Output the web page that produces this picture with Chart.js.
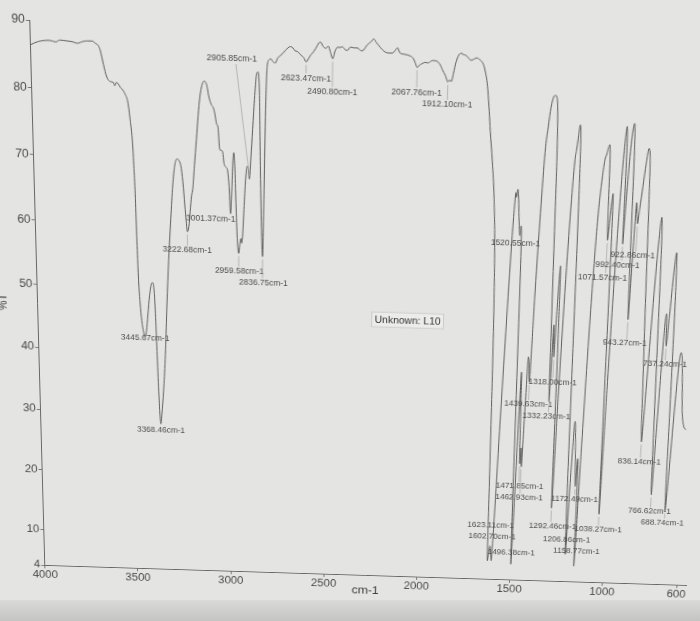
<!DOCTYPE html>
<html>
<head>
    <title>IR Spectrum - Unknown L10</title>
    <script src="https://cdn.jsdelivr.net/npm/chart.js"></script>
    <style>
        body {
            margin: 0;
            padding: 0;
            width: 700px;
            height: 621px;
            overflow: hidden;
            position: relative;
            background: #e4e4e2;
            font-family: "Liberation Sans", Arial, sans-serif;
        }
        .desk {
            position: absolute;
            left: 0;
            right: 0;
            top: 600px;
            bottom: 0;
            background: linear-gradient(#dadad8, #c4c4c2);
        }
        #spectrum {
            position: absolute;
            left: 0;
            top: 0;
            transform-origin: 0 0;
        }
    </style>
</head>
<body>
    <div class="desk"></div>
    <canvas id="spectrum" width="750" height="640"></canvas>

    <script>
        // spectrum (cm-1 / %T)
        const wavenumbers = [
            4000, 3960, 3903, 3875, 3853, 3820, 3790, 3768, 3738, 3715, 3690, 3678, 3663, 3653, 3638, 3623,
            3605, 3590, 3583, 3575, 3568, 3555, 3543, 3530, 3519, 3507, 3498, 3492, 3487, 3482, 3477, 3470,
            3462, 3454, 3445.67, 3438, 3430, 3420, 3410, 3403, 3396, 3390, 3384, 3377, 3368.46, 3360, 3350,
            3340, 3331, 3320, 3307, 3296, 3285, 3274, 3264, 3254, 3244, 3235, 3228, 3222.68, 3215, 3208, 3200,
            3194, 3185, 3174, 3165, 3156, 3145, 3135, 3128, 3120, 3112, 3105, 3098, 3090, 3082, 3072, 3065,
            3056, 3048, 3041, 3035, 3031, 3022, 3016, 3009, 3001.37, 2995, 2990, 2985, 2980, 2974, 2967,
            2959.58, 2953, 2948, 2944, 2940, 2933, 2925, 2917, 2912, 2905.85, 2898, 2890, 2880, 2870, 2863,
            2856, 2850, 2842, 2836.75, 2831, 2825, 2818, 2810, 2800, 2790, 2778, 2765, 2753, 2740, 2728, 2715,
            2703, 2690, 2680, 2668, 2650, 2635, 2623.47, 2610, 2600, 2593, 2575, 2560, 2553, 2540, 2528, 2513,
            2503, 2490.80, 2480, 2468, 2455, 2443, 2430, 2418, 2403, 2385, 2368, 2350, 2338, 2320, 2300, 2288,
            2275, 2263, 2245, 2228, 2210, 2193, 2180, 2168, 2160, 2153, 2135, 2118, 2100, 2088, 2077, 2067.76,
            2055, 2043, 2028, 2015, 2000, 1988, 1970, 1955, 1940, 1925, 1912.10, 1905, 1895, 1885, 1875, 1862,
            1850, 1838, 1825, 1812, 1800, 1785, 1770, 1760, 1750, 1735, 1725, 1715, 1700, 1691, 1675, 1659,
            1645, 1635, 1628, 1623.11, 1617, 1612, 1607, 1602.70, 1595, 1585, 1574, 1562, 1555, 1549, 1545,
            1540, 1535, 1530, 1524, 1520.55, 1516, 1512, 1505, 1500, 1496.38, 1492, 1487, 1482, 1477, 1471.85,
            1467, 1462.93, 1456, 1450, 1445, 1439.63, 1430, 1420, 1410, 1400, 1390, 1380, 1370, 1362, 1355,
            1349, 1343, 1337, 1332.23, 1328, 1325, 1321, 1318.00, 1312, 1305, 1299, 1292.46, 1285, 1275, 1265,
            1257, 1252, 1246, 1239, 1233, 1227, 1220, 1213, 1206.86, 1200, 1190, 1180, 1172.49, 1167, 1163,
            1158.77, 1150, 1140, 1128, 1115, 1105, 1098, 1090, 1085, 1080, 1076, 1071.57, 1063, 1055, 1049,
            1044, 1038.27, 1032, 1024, 1015, 1008, 1002, 998, 995, 992.40, 988, 980, 972, 965, 959, 953, 948,
            943.27, 938, 933, 928, 922.86, 916, 906, 896, 886, 878, 870, 858, 847, 836.14, 828, 818, 808, 800,
            793, 784, 775, 766.62, 760, 752, 745, 737.24, 730, 721, 713, 706, 698, 688.74, 681, 673, 663, 656,
            649, 642, 632, 618, 605
        ];
        const transmittance = [
            86.4, 86.9, 87.1, 86.9, 87.2, 87.1, 87.0, 86.8, 87.1, 87.2, 87.2, 86.9, 86.6, 85.9, 83.8, 82.0,
            81.3, 81.2, 80.7, 81.2, 81.1, 80.5, 80.1, 79.4, 78.4, 75.4, 72.4, 68.3, 63.8, 57.3, 51.8, 47.7,
            44.7, 43.0, 42.2, 43.2, 45.7, 48.8, 50.6, 50.8, 49.3, 45.3, 39.2, 32.7, 28.2, 30.7, 34.7,
            40.2, 47.3, 54.3, 60.9, 65.9, 69.0, 70.0, 69.8, 69.0, 66.5, 63.0, 60.4, 58.9, 59.7, 62.0, 64.5,
            65.5, 69.0, 73.1, 76.6, 79.4, 81.2, 81.8, 81.7, 81.1, 79.7, 78.9, 78.3, 78.0, 77.2, 75.5, 75.0,
            71.6, 71.5, 71.2, 69.6, 69.2, 68.9, 68.4, 66.1, 61.9, 65.6, 69.7, 71.2, 69.2, 63.6, 58.1,
            55.8, 57.4, 58.1, 57.4, 58.4, 62.6, 67.2, 69.2, 69.0, 67.3, 70.7, 74.8, 79.9, 83.2, 83.4,
            79.9, 68.8, 58.6, 55.4, 65.7, 77.9, 84.3, 85.2, 85.4, 85.0, 84.8, 85.6, 85.9, 86.3, 86.7, 87.1,
            87.3, 87.1, 86.7, 86.6, 86.1, 85.7, 85.1, 85.7, 86.2, 86.4, 87.2, 88.0, 88.1, 87.5, 87.2, 87.5,
            86.7, 85.7, 86.8, 87.4, 87.4, 87.5, 87.1, 87.0, 87.5, 87.4, 87.4, 87.0, 87.1, 87.9, 88.4, 88.8,
            88.3, 87.9, 87.3, 86.9, 86.8, 86.8, 87.2, 87.6, 87.1, 86.8, 86.7, 86.6, 86.4, 86.1, 85.4, 84.8,
            85.2, 85.4, 85.6, 85.5, 85.8, 85.9, 85.8, 85.4, 84.5, 83.7, 82.8, 83.1, 82.9, 84.2, 85.7, 86.8,
            87.1, 86.9, 86.8, 86.4, 86.1, 86.3, 86.5, 86.3, 86.1, 85.4, 84.3, 82.8, 78.7, 75.7, 71.1, 65.4,
            56.2, 40.9, 20.4, 7.1, 8.6, 9.6, 8.6, 7.1, 14.2, 28.6, 42.9, 57.3, 63.4, 66.5, 65.8,
            67.0, 66.0, 63.5, 60.9, 59.9, 61.4, 59.4, 35.8, 15.3, 6.6, 15.3, 30.7, 38.4, 30.7, 23.5,
            26.1, 23.0, 32.7, 40.9, 39.9, 36.8, 51.2, 63.5, 72.8, 76.5, 79.5, 81.0, 81.3, 81.0, 78.5,
            72.0, 58.0, 44.0, 33.8, 41.0, 46.1, 43.0, 41.0, 49.2, 55.4, 41.0, 16.3, 34.8, 53.3, 65.7,
            71.8, 73.1, 74.9, 77.0, 75.0, 63.6, 41.0, 18.4, 8.6, 20.5, 30.7, 25.6, 20.0, 24.6, 22.5,
            6.6, 25.6, 46.2, 61.6, 68.9, 72.0, 72.7, 73.8, 74.2, 72.0, 64.8, 59.6, 63.7, 66.8, 53.4,
            32.8, 15.5, 35.9, 56.5, 69.5, 75.0, 77.0, 74.5, 66.0, 59.1, 64.5, 72.5, 76.5, 77.5, 73.5, 63.0, 53.5,
            47.3, 57.6, 65.5, 63.8, 62.3, 64.5, 68.0, 71.5, 73.8, 72.6, 65.0, 50.0, 38.0, 27.7, 36.0, 50.0, 60.0, 63.4,
            59.0, 45.0, 30.0, 19.0, 30.9, 45.3, 48.4, 43.3, 48.0, 55.0, 58.0, 52.0, 36.0, 16.4, 22.6, 33.0, 41.2, 42.3,
            41.2, 38.1, 33.0, 30.4, 29.9
        ];

        // picked peaks: position of the band, and where its label text sits (cm-1 / %T)
        const peakWn = [
            3445.67, 3368.46, 3222.68, 3001.37, 2959.58, 2905.85, 2836.75, 2623.47, 2490.80, 2067.76, 1912.10,
            1623.11, 1602.70, 1520.55, 1496.38, 1471.85, 1462.93, 1439.63, 1332.23, 1318.00, 1292.46, 1206.86,
            1172.49, 1158.77, 1071.57, 1038.27, 992.40, 943.27, 922.86, 836.14, 766.62, 737.24, 688.74
        ];
        const labelWn = [
            3445.67, 3368.46, 3224, 3103, 2956, 2995, 2832, 2623.47, 2490.80, 2067.76, 1912.10,
            1612, 1602.70, 1541, 1496.38, 1467, 1467, 1439.63, 1342, 1318, 1282, 1204,
            1172.49, 1148, 1087, 1038.27, 1013, 953, 938, 841, 771, 737.24, 699
        ];
        const labelT = [
            42.0, 27.1, 56.0, 61.0, 53.0, 85.2, 51.3, 82.7, 80.8, 81.1, 79.4,
            13.0, 11.2, 58.7, 8.6, 19.7, 17.8, 33.2, 31.4, 36.9, 13.2, 11.0,
            17.9, 9.1, 53.8, 12.9, 55.8, 43.5, 57.3, 24.4, 16.2, 40.3, 14.4
        ];

        const sampleName = 'Unknown: L10';
        const samplePos = [2083, 46.1];

        const xTicks = [4000, 3500, 3000, 2500, 2000, 1500, 1000, 600];
        const yTicks = [4, 10, 20, 30, 40, 50, 60, 70, 80, 90];

        // where the plot corners landed in the photo: top-left, top-right, bottom-right, bottom-left
        const photoCorners = [[30, 20], [723, 41.6], [686, 585], [45, 565]];

        const peakLabels = {
            id: 'peakLabels',
            afterDatasetsDraw(chart) {
                const ctx = chart.ctx;
                const x = chart.scales.x, y = chart.scales.y;
                ctx.save();
                ctx.font = '8.5px "Liberation Sans", Arial, sans-serif';
                ctx.textAlign = 'center';
                ctx.textBaseline = 'middle';
                ctx.lineWidth = 0.8;
                ctx.strokeStyle = '#a9a9a9';
                peakWn.forEach((wn, i) => {
                    const px = x.getPixelForValue(wn);
                    const py = y.getPixelForValue(transmittance[wavenumbers.indexOf(wn)]);
                    const lx = x.getPixelForValue(labelWn[i]);
                    const ly = y.getPixelForValue(labelT[i]);
                    ctx.beginPath();
                    if (ly - py > 8) {
                        ctx.moveTo(px, py + 3);
                        ctx.lineTo(px, ly - 5);
                    } else if (py - ly > 60) {
                        ctx.moveTo(px, py - 3);
                        ctx.lineTo(lx + 4, ly + 5);
                    }
                    ctx.stroke();
                    ctx.fillStyle = '#4d4d4d';
                    ctx.fillText(wn.toFixed(2) + 'cm-1', lx, ly);
                });

                // sample name box
                ctx.font = '10.5px "Liberation Sans", Arial, sans-serif';
                const sx = x.getPixelForValue(samplePos[0]);
                const sy = y.getPixelForValue(samplePos[1]);
                const w = ctx.measureText(sampleName).width + 6;
                ctx.fillStyle = '#ececea';
                ctx.fillRect(sx - w / 2, sy - 8, w, 16);
                ctx.strokeStyle = '#c4c4c4';
                ctx.strokeRect(sx - w / 2, sy - 8, w, 16);
                ctx.fillStyle = '#333';
                ctx.fillText(sampleName, sx, sy + 0.5);
                ctx.restore();
            }
        };

        // the photo was taken at an angle, so map the flat chart onto the photographed quad
        function warpToPhoto(chart) {
            const a = chart.chartArea;
            const W = a.right - a.left, H = a.bottom - a.top;
            const [[x0, y0], [x1, y1], [x2, y2], [x3, y3]] = photoCorners;
            const dx1 = x1 - x2, dx2 = x3 - x2, dx3 = x0 - x1 + x2 - x3;
            const dy1 = y1 - y2, dy2 = y3 - y2, dy3 = y0 - y1 + y2 - y3;
            const den = dx1 * dy2 - dx2 * dy1;
            const g = (dx3 * dy2 - dx2 * dy3) / den;
            const h = (dx1 * dy3 - dx3 * dy1) / den;
            const A = x1 - x0 + g * x1, B = x3 - x0 + h * x3, C = x0;
            const D = y1 - y0 + g * y1, E = y3 - y0 + h * y3, F = y0;
            const m = [
                [A / W, B / H, C - A * a.left / W - B * a.top / H],
                [D / W, E / H, F - D * a.left / W - E * a.top / H],
                [g / W, h / H, 1 - g * a.left / W - h * a.top / H]
            ];
            chart.canvas.style.transform = 'matrix3d(' + [
                m[0][0], m[1][0], 0, m[2][0],
                m[0][1], m[1][1], 0, m[2][1],
                0, 0, 1, 0,
                m[0][2], m[1][2], 0, m[2][2]
            ].join(',') + ')';
        }

        const axisFont = { family: '"Liberation Sans", Arial, sans-serif', size: 12 };

        const chart = new Chart(document.getElementById('spectrum'), {
            type: 'line',
            data: {
                datasets: [{
                    label: 'Unknown: L10',
                    data: wavenumbers.map((wn, i) => ({ x: wn, y: transmittance[i] })),
                    borderColor: '#5e5e5e',
                    borderWidth: 1,
                    pointRadius: 0,
                    cubicInterpolationMode: 'monotone',
                    fill: false
                }]
            },
            options: {
                responsive: false,
                animation: false,
                devicePixelRatio: 1,
                layout: { padding: { top: 20, right: 30, left: 0, bottom: 2 } },
                plugins: {
                    legend: { display: false },
                    tooltip: { enabled: false }
                },
                scales: {
                    x: {
                        type: 'linear',
                        reverse: true,
                        min: 550,
                        max: 4000,
                        afterBuildTicks: axis => { axis.ticks = xTicks.map(v => ({ value: v })); },
                        grid: { drawOnChartArea: false, tickLength: 4, color: '#777' },
                        border: { color: '#666', width: 1 },
                        ticks: { color: '#4a4a4a', font: axisFont, padding: 0, maxRotation: 0, autoSkip: false, callback: v => String(v) },
                        title: { display: true, text: 'cm-1', color: '#3a3a3a', font: { family: axisFont.family, size: 13 }, padding: { top: -8, bottom: 0 } }
                    },
                    y: {
                        type: 'linear',
                        min: 4,
                        max: 90,
                        afterBuildTicks: axis => { axis.ticks = yTicks.map(v => ({ value: v })); },
                        grid: { drawOnChartArea: false, tickLength: 4, color: '#777' },
                        border: { color: '#666', width: 1 },
                        ticks: { color: '#4a4a4a', font: axisFont, padding: 1, autoSkip: false, callback: v => String(v) },
                        title: { display: true, text: '%T', color: '#3a3a3a', font: { family: axisFont.family, size: 12 }, padding: { top: 0, bottom: 9 } }
                    }
                }
            },
            plugins: [peakLabels]
        });

        warpToPhoto(chart);
    </script>
</body>
</html>
